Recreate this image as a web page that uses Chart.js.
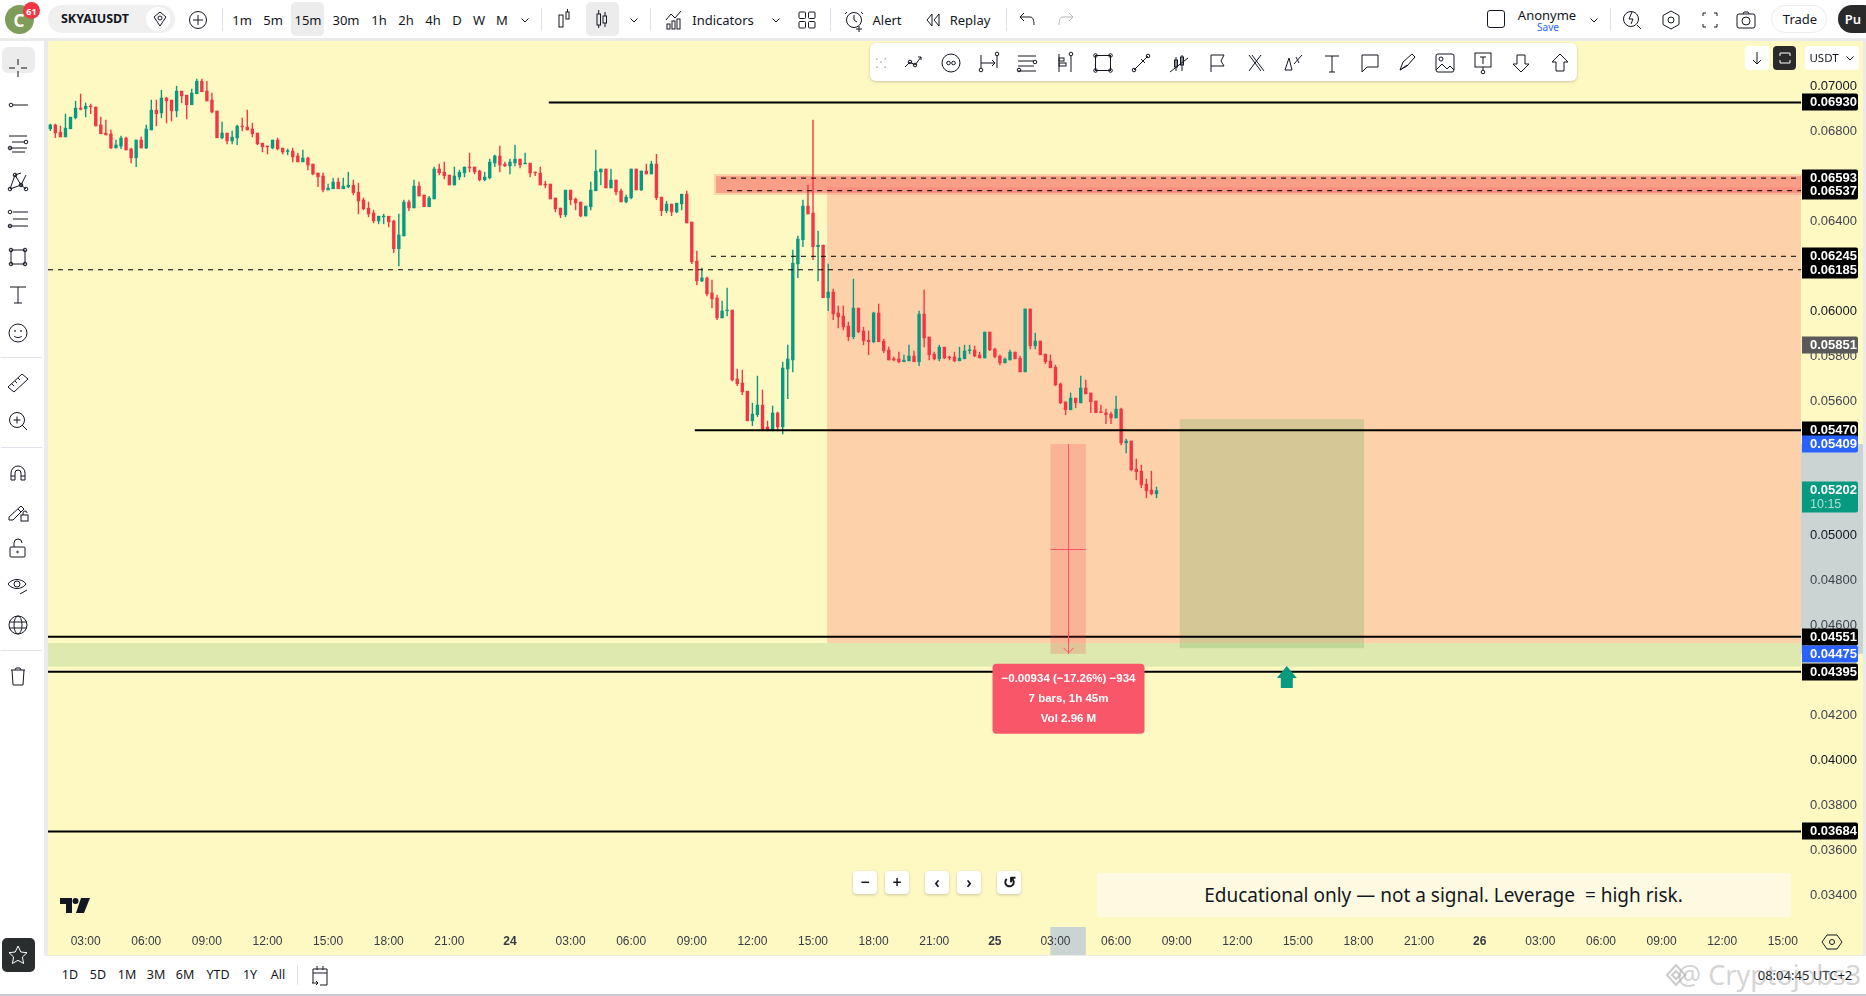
<!DOCTYPE html>
<html><head><meta charset="utf-8"><title>SKYAIUSDT</title>
<script src="https://cdn.jsdelivr.net/npm/chart.js@4"></script>
<style>
html,body{margin:0;padding:0;width:1866px;height:996px;overflow:hidden;background:#ebebeb;font-family:"Noto Sans","Liberation Sans",sans-serif;color:#131722}
#top{position:absolute;left:0;top:0;width:1866px;height:38px;background:#fff}
#left{position:absolute;left:0;top:41px;width:44px;height:914px;background:#fff}
#bottom{position:absolute;left:45px;top:956px;width:1821px;height:38px;background:#fff}
#leftb{position:absolute;left:0;top:955px;width:45px;height:39px;background:#fff}
#strip{position:absolute;left:0;top:994px;width:1866px;height:2px;background:#c9cbd6}
#wrap{position:absolute;left:48px;top:41px;width:1815px;height:914px;background:#fef8c3}
canvas{display:block}
.t{position:absolute;white-space:pre;transform:translate(-50%,-50%);font-size:13px;line-height:1}
.b{position:absolute;box-sizing:border-box}
svg.i{position:absolute;overflow:visible;fill:none;stroke:#131722;stroke-width:1}
</style></head><body>
<div id="top"></div><div id="left"></div><div id="leftb"></div><div id="bottom"></div><div id="strip"></div>
<div id="wrap"><canvas id="c" width="1815" height="914" style="width:1815px;height:914px"></canvas></div>
<div id="ui"></div>
<script>
// ---- chart values ----
const opens=[0.06812,0.06830,0.06798,0.06776,0.06812,0.06861,0.06905,0.06901,0.06914,0.06910,
0.06830,0.06794,0.06790,0.06727,0.06735,0.06772,0.06723,0.06683,0.06763,0.06727,
0.06807,0.06896,0.06883,0.06950,0.06941,0.06892,0.06981,0.06963,0.06919,0.06968,
0.07025,0.06981,0.06941,0.06892,0.06772,0.06794,0.06758,0.06772,0.06825,0.06821,
0.06812,0.06794,0.06749,0.06736,0.06727,0.06763,0.06727,0.06711,0.06714,0.06692,
0.06665,0.06683,0.06656,0.06616,0.06603,0.06540,0.06545,0.06576,0.06545,0.06554,
0.06562,0.06531,0.06496,0.06460,0.06438,0.06402,0.06420,0.06424,0.06402,0.06278,
0.06335,0.06487,0.06460,0.06558,0.06518,0.06465,0.06500,0.06634,0.06620,0.06607,
0.06562,0.06598,0.06616,0.06643,0.06643,0.06625,0.06585,0.06594,0.06660,0.06692,
0.06656,0.06647,0.06660,0.06678,0.06656,0.06660,0.06620,0.06616,0.06567,0.06567,
0.06505,0.06460,0.06429,0.06540,0.06500,0.06487,0.06424,0.06465,0.06536,0.06620,
0.06634,0.06549,0.06585,0.06536,0.06487,0.06505,0.06634,0.06540,0.06625,0.06611,
0.06656,0.06509,0.06447,0.06478,0.06442,0.06478,0.06522,0.06398,0.06224,0.06135,
0.06149,0.06082,0.06060,0.05970,0.06002,0.06006,0.05699,0.05681,0.05645,0.05512,
0.05539,0.05583,0.05485,0.05472,0.05548,0.05485,0.05743,0.05783,0.06211,0.06318,
0.06469,0.06438,0.06287,0.06295,0.06060,0.06086,0.05993,0.05979,0.05935,0.05886,
0.06015,0.05913,0.05872,0.05864,0.05993,0.05868,0.05828,0.05789,0.05788,0.05775,
0.05779,0.05801,0.05775,0.05988,0.05886,0.05810,0.05788,0.05841,0.05797,0.05797,
0.05779,0.05788,0.05824,0.05828,0.05806,0.05792,0.05908,0.05832,0.05801,0.05770,
0.05783,0.05819,0.05792,0.05730,0.06011,0.05846,0.05868,0.05810,0.05779,0.05752,
0.05677,0.05597,0.05561,0.05614,0.05592,0.05659,0.05637,0.05601,0.05552,0.05548,
0.05543,0.05525,0.05565,0.05414,0.05423,0.05298,0.05289,0.05231,0.05205,0.05187];
const highs=[0.06834,0.06834,0.06825,0.06879,0.06865,0.06936,0.06968,0.06928,0.06923,0.06910,
0.06865,0.06852,0.06807,0.06763,0.06781,0.06776,0.06727,0.06763,0.06776,0.06830,
0.06941,0.06941,0.06985,0.06954,0.06941,0.07003,0.06981,0.06963,0.06990,0.07034,
0.07034,0.07025,0.06972,0.06892,0.06843,0.06794,0.06803,0.06830,0.06861,0.06896,
0.06838,0.06794,0.06749,0.06736,0.06763,0.06772,0.06727,0.06723,0.06727,0.06705,
0.06718,0.06687,0.06656,0.06616,0.06616,0.06567,0.06594,0.06594,0.06594,0.06620,
0.06585,0.06571,0.06505,0.06487,0.06451,0.06424,0.06433,0.06424,0.06407,0.06433,
0.06496,0.06496,0.06585,0.06576,0.06518,0.06513,0.06643,0.06656,0.06665,0.06607,
0.06643,0.06629,0.06643,0.06705,0.06643,0.06629,0.06620,0.06678,0.06696,0.06736,
0.06665,0.06678,0.06741,0.06678,0.06705,0.06660,0.06620,0.06643,0.06580,0.06567,
0.06505,0.06460,0.06540,0.06540,0.06505,0.06487,0.06469,0.06576,0.06718,0.06634,
0.06634,0.06634,0.06585,0.06545,0.06518,0.06634,0.06634,0.06625,0.06656,0.06669,
0.06700,0.06509,0.06491,0.06478,0.06482,0.06522,0.06536,0.06398,0.06269,0.06193,
0.06153,0.06140,0.06073,0.06046,0.06104,0.06006,0.05743,0.05739,0.05645,0.05592,
0.05712,0.05650,0.05512,0.05579,0.05552,0.05775,0.05850,0.06273,0.06336,0.06496,
0.06563,0.06852,0.06358,0.06295,0.06211,0.06100,0.06024,0.06024,0.05953,0.06144,
0.06015,0.05930,0.05913,0.05997,0.06033,0.05877,0.05841,0.05797,0.05819,0.05806,
0.05850,0.05824,0.06002,0.06095,0.05886,0.05819,0.05850,0.05841,0.05801,0.05819,
0.05841,0.05850,0.05850,0.05846,0.05819,0.05908,0.05908,0.05837,0.05806,0.05792,
0.05828,0.05819,0.05801,0.06011,0.06011,0.05904,0.05868,0.05810,0.05806,0.05761,
0.05681,0.05597,0.05637,0.05614,0.05712,0.05694,0.05637,0.05601,0.05583,0.05565,
0.05552,0.05623,0.05570,0.05432,0.05423,0.05343,0.05316,0.05254,0.05289,0.05218];
const lows=[0.06804,0.06773,0.06776,0.06776,0.06812,0.06856,0.06896,0.06865,0.06879,0.06825,
0.06790,0.06785,0.06723,0.06727,0.06723,0.06718,0.06660,0.06643,0.06727,0.06723,
0.06807,0.06825,0.06861,0.06838,0.06847,0.06865,0.06928,0.06856,0.06919,0.06968,
0.06977,0.06936,0.06883,0.06772,0.06767,0.06745,0.06745,0.06741,0.06803,0.06807,
0.06776,0.06741,0.06709,0.06700,0.06723,0.06718,0.06700,0.06696,0.06665,0.06665,
0.06665,0.06629,0.06607,0.06554,0.06531,0.06540,0.06545,0.06545,0.06545,0.06549,
0.06518,0.06433,0.06451,0.06420,0.06393,0.06389,0.06389,0.06375,0.06260,0.06202,
0.06335,0.06447,0.06460,0.06513,0.06465,0.06465,0.06500,0.06607,0.06589,0.06562,
0.06562,0.06585,0.06598,0.06620,0.06611,0.06580,0.06580,0.06589,0.06643,0.06620,
0.06643,0.06611,0.06647,0.06638,0.06656,0.06598,0.06603,0.06562,0.06549,0.06500,
0.06442,0.06416,0.06420,0.06473,0.06451,0.06420,0.06424,0.06451,0.06536,0.06562,
0.06549,0.06549,0.06518,0.06487,0.06482,0.06500,0.06540,0.06536,0.06611,0.06611,
0.06496,0.06425,0.06438,0.06425,0.06438,0.06451,0.06393,0.06211,0.06117,0.06131,
0.06068,0.06015,0.05962,0.05970,0.05979,0.05690,0.05668,0.05628,0.05512,0.05490,
0.05530,0.05472,0.05467,0.05467,0.05467,0.05454,0.05610,0.05730,0.06149,0.06287,
0.06433,0.06229,0.06135,0.06060,0.06002,0.05962,0.05926,0.05917,0.05868,0.05877,
0.05904,0.05850,0.05806,0.05859,0.05864,0.05815,0.05783,0.05779,0.05770,0.05775,
0.05779,0.05775,0.05757,0.05841,0.05783,0.05783,0.05779,0.05788,0.05783,0.05775,
0.05779,0.05788,0.05810,0.05797,0.05792,0.05792,0.05824,0.05792,0.05761,0.05770,
0.05783,0.05788,0.05730,0.05730,0.05832,0.05832,0.05806,0.05766,0.05748,0.05668,
0.05588,0.05539,0.05561,0.05570,0.05592,0.05632,0.05548,0.05548,0.05548,0.05499,
0.05499,0.05525,0.05405,0.05369,0.05289,0.05249,0.05214,0.05169,0.05182,0.05169];
const closes=[0.06830,0.06794,0.06776,0.06816,0.06865,0.06905,0.06899,0.06914,0.06910,0.06825,
0.06790,0.06785,0.06727,0.06741,0.06772,0.06718,0.06683,0.06763,0.06727,0.06812,
0.06896,0.06879,0.06950,0.06936,0.06892,0.06981,0.06959,0.06919,0.06972,0.07025,
0.06977,0.06936,0.06887,0.06772,0.06794,0.06758,0.06776,0.06825,0.06821,0.06807,
0.06790,0.06745,0.06732,0.06732,0.06763,0.06723,0.06709,0.06715,0.06687,0.06665,
0.06683,0.06651,0.06611,0.06598,0.06540,0.06549,0.06576,0.06545,0.06558,0.06562,
0.06527,0.06491,0.06456,0.06433,0.06402,0.06424,0.06424,0.06398,0.06278,0.06340,
0.06487,0.06460,0.06558,0.06513,0.06465,0.06505,0.06634,0.06616,0.06603,0.06562,
0.06603,0.06620,0.06643,0.06638,0.06620,0.06585,0.06598,0.06665,0.06692,0.06651,
0.06647,0.06665,0.06678,0.06651,0.06660,0.06616,0.06616,0.06562,0.06562,0.06500,
0.06456,0.06429,0.06540,0.06496,0.06482,0.06424,0.06469,0.06540,0.06625,0.06634,
0.06549,0.06585,0.06531,0.06487,0.06509,0.06634,0.06540,0.06625,0.06611,0.06656,
0.06505,0.06447,0.06478,0.06442,0.06482,0.06522,0.06393,0.06220,0.06135,0.06149,
0.06077,0.06055,0.05970,0.06002,0.06006,0.05694,0.05677,0.05641,0.05512,0.05543,
0.05583,0.05476,0.05472,0.05548,0.05485,0.05748,0.05788,0.06215,0.06322,0.06469,
0.06433,0.06287,0.06295,0.06060,0.06086,0.05988,0.05975,0.05930,0.05886,0.06015,
0.05908,0.05868,0.05864,0.05993,0.05864,0.05824,0.05783,0.05783,0.05775,0.05783,
0.05801,0.05775,0.05988,0.05881,0.05806,0.05788,0.05841,0.05792,0.05792,0.05779,
0.05792,0.05824,0.05828,0.05801,0.05792,0.05908,0.05828,0.05797,0.05770,0.05788,
0.05819,0.05788,0.05730,0.06011,0.05846,0.05868,0.05806,0.05775,0.05748,0.05672,
0.05592,0.05561,0.05614,0.05592,0.05659,0.05632,0.05597,0.05548,0.05548,0.05539,
0.05525,0.05565,0.05414,0.05423,0.05294,0.05285,0.05227,0.05200,0.05187,0.05202];

const timeLabels=["03:00","06:00","09:00","12:00","15:00","18:00","21:00","24",
"03:00","06:00","09:00","12:00","15:00","18:00","21:00","25",
"03:00","06:00","09:00","12:00","15:00","18:00","21:00","26",
"03:00","06:00","09:00","12:00","15:00"];
const firstLabelBar=7, barsPerLabel=12;          // bars of 15 minutes
const priceTicks=[0.070,0.068,0.066,0.064,0.062,0.060,0.058,0.056,0.054,0.052,0.050,0.048,0.046,0.044,0.042,0.040,0.038,0.036,0.034];
const priceMin=0.032588, priceMax=0.072035, barMin=-0.455, barMax=346.6;

const solidLevels=[[0.06930,98.7],[0.05470,127.6],[0.04551,barMin],[0.04395,barMin],[0.03684,barMin]];
const dashedLevels=[[0.06593,132.8],[0.06537,134],[0.06245,130.8],[0.06185,barMin]];
const blackTags=[0.06930,0.06593,0.06537,0.06245,0.06185,0.05470,0.04551,0.04395,0.03684];
const greyTags=[0.05851], blueTags=[0.05409,0.04475];
const lastPrice=0.05202, countdown="10:15";

const supplyZone={from:131.8,to:barMax,top:0.06602,bottom:0.06527};
const riskZone={from:153.8,to:barMax,top:0.06553,bottom:0.04523};
const demandZone={from:barMin,to:barMax,top:0.04523,bottom:0.04418};
const targetBox={from:223.6,to:260.1,top:0.05520,bottom:0.04500};
const measure={from:198,to:205,start:0.05409,end:0.04475,lines:["\u22120.00934 (\u221217.26%) \u2212934","7 bars, 1h 45m","Vol 2.96 M"]};
const buyArrow={bar:244.8,tip:0.04421};

// ---- chart ----
const UP='#089981',DOWN='#F23645';
const bars=opens.map((_,i)=>i);
const candleColors=bars.map(i=>closes[i]>=opens[i]?UP:DOWN);
function levelSet(l,dashed){return {type:'line',data:[{x:l[1],y:l[0]},{x:barMax,y:l[0]}],borderColor:'#000',
  borderWidth:dashed?1:2,borderDash:dashed?[5,5]:[],pointRadius:0,order:1,tension:0};}

function zone(c,z,color){const {x,y}=c.scales;
  c.ctx.fillStyle=color;
  c.ctx.fillRect(x.getPixelForValue(z.from),y.getPixelForValue(z.top),
    x.getPixelForValue(z.to)-x.getPixelForValue(z.from),y.getPixelForValue(z.bottom)-y.getPixelForValue(z.top));}
function tag(c,price,bg,text,fg){const y=c.scales.y.getPixelForValue(price),ctx=c.ctx,L=c.chartArea.right+1;
  ctx.fillStyle=bg;ctx.beginPath();ctx.roundRect(L,Math.round(y)-8.5,56,17,[0,2,2,0]);ctx.fill();
  ctx.fillStyle=fg||'#fff';ctx.font='bold 13px "Liberation Sans"';ctx.textAlign='left';ctx.textBaseline='middle';
  ctx.fillText(text,L+8,Math.round(y)+0.5);}

const overlay={id:'overlay',
 beforeDraw(c){const {x,y}=c.scales,ctx=c.ctx,a=c.chartArea;
  ctx.save();ctx.fillStyle='#cad5d3';
  ctx.fillRect(a.right,y.getPixelForValue(measure.start),62,y.getPixelForValue(measure.end)-y.getPixelForValue(measure.start));
  ctx.fillRect(x.getPixelForValue(measure.from),a.bottom,x.getPixelForValue(measure.to)-x.getPixelForValue(measure.from),28);
  ctx.restore();},
 beforeDatasetsDraw(c){const ctx=c.ctx,{x,y}=c.scales;ctx.save();
  zone(c,demandZone,'rgba(133,192,120,0.27)');
  zone(c,supplyZone,'rgba(245,60,70,0.47)');
  const sx=x.getPixelForValue(supplyZone.from),st=y.getPixelForValue(supplyZone.top),sb=y.getPixelForValue(supplyZone.bottom);
  ctx.strokeStyle='rgba(245,60,70,0.2)';ctx.lineWidth=2;ctx.strokeRect(sx-1,st-1,c.chartArea.right-sx+1,sb-st+2);
  zone(c,riskZone,'rgba(250,109,108,0.28)');
  zone(c,targetBox,'rgba(123,179,103,0.30)');
  ctx.restore();},
 afterDraw(c){const ctx=c.ctx,{x,y}=c.scales;ctx.save();
  // measure tool
  const mx0=x.getPixelForValue(measure.from),mx1=x.getPixelForValue(measure.to),my0=y.getPixelForValue(measure.start),my1=y.getPixelForValue(measure.end);
  ctx.fillStyle='rgba(242,54,69,0.2)';ctx.fillRect(mx0,my0,mx1-mx0,my1-my0);
  const cx=Math.round((mx0+mx1)/2)+0.5;
  ctx.strokeStyle='#F9566A';ctx.lineWidth=1;ctx.beginPath();
  ctx.moveTo(cx,my0);ctx.lineTo(cx,my1);ctx.moveTo(mx0,Math.round((my0+my1)/2)+.5);ctx.lineTo(mx1,Math.round((my0+my1)/2)+.5);
  ctx.moveTo(cx-5,my1-6);ctx.lineTo(cx,my1-1);ctx.lineTo(cx+5,my1-6);ctx.stroke();
  ctx.fillStyle='#F9566A';ctx.beginPath();ctx.roundRect(cx-76,my1+10,152,70,4);ctx.fill();
  ctx.fillStyle='#fff';ctx.font='bold 11.5px "Liberation Sans"';ctx.textAlign='center';ctx.textBaseline='middle';
  measure.lines.forEach((s,i)=>ctx.fillText(s,cx,my1+25+i*20));
  // arrow
  const ax=x.getPixelForValue(buyArrow.bar),ay=y.getPixelForValue(buyArrow.tip);
  ctx.fillStyle=UP;ctx.beginPath();ctx.moveTo(ax,ay);ctx.lineTo(ax+10,ay+12);ctx.lineTo(ax+6,ay+12);ctx.lineTo(ax+6,ay+22);
  ctx.lineTo(ax-6,ay+22);ctx.lineTo(ax-6,ay+12);ctx.lineTo(ax-10,ay+12);ctx.closePath();ctx.fill();
  // price tags
  greyTags.forEach(p=>tag(c,p,'#5a5a5a',p.toFixed(5)));
  blackTags.forEach(p=>tag(c,p,'#000',p.toFixed(5)));
  blueTags.forEach(p=>tag(c,p,'#2962FF',p.toFixed(5)));
  const ly=y.getPixelForValue(lastPrice),L=c.chartArea.right+1;
  ctx.fillStyle=UP;ctx.beginPath();ctx.roundRect(L,ly-9,56,31,[0,2,2,0]);ctx.fill();
  ctx.fillStyle='#fff';ctx.font='bold 13px "Liberation Sans"';ctx.textAlign='left';ctx.fillText(lastPrice.toFixed(5),L+8,ly);
  ctx.fillStyle='#a9e0d4';ctx.font='12.5px "Liberation Sans"';ctx.fillText(countdown,L+8,ly+14);
  ctx.restore();}
};

const labelAt=v=>timeLabels[Math.round((v-firstLabelBar)/barsPerLabel)];
new Chart(document.getElementById('c'),{type:'bar',plugins:[overlay],
 data:{datasets:[
  {label:'wick',data:bars.map(i=>({x:i,y:[lows[i],highs[i]]})),backgroundColor:candleColors,barThickness:1,grouped:false,order:3,inflateAmount:0.2},
  {label:'body',data:bars.map(i=>({x:i,y:[opens[i],closes[i]]})),backgroundColor:candleColors,barThickness:3,minBarLength:1,grouped:false,order:2,inflateAmount:0.2},
  ...solidLevels.map(l=>levelSet(l,false)),
  ...dashedLevels.map(l=>levelSet(l,true))
 ]},
 options:{responsive:false,animation:false,devicePixelRatio:1,events:[],
  layout:{autoPadding:false,padding:0},
  plugins:{legend:{display:false},tooltip:{enabled:false},title:{display:false}},
  scales:{
   x:{type:'linear',min:barMin,max:barMax,offset:false,
      grid:{display:false,drawTicks:false},border:{display:false},
      afterBuildTicks(s){s.ticks=timeLabels.map((_,k)=>({value:firstLabelBar+k*barsPerLabel}));},
      afterFit(s){s.height=28;s.paddingLeft=0;s.paddingRight=0;},
      ticks:{autoSkip:false,maxRotation:0,minRotation:0,padding:7,
        font(ctx){const t=ctx.tick?labelAt(ctx.tick.value):'';return {family:'"Liberation Sans"',size:12,weight:t&&t.length<3?'bold':'normal'};},
        color:'#363a45',
        callback(v){return labelAt(v);}}},
   y:{type:'linear',position:'right',min:priceMin,max:priceMax,
      grid:{display:false,drawTicks:false},border:{display:false},
      afterBuildTicks(s){s.ticks=priceTicks.map(v=>({value:v}));},
      afterFit(s){s.width=62;s.paddingTop=0;s.paddingBottom=0;},
      ticks:{autoSkip:false,padding:9,font:{family:'"Liberation Sans"',size:13},
        color(ctx){return ctx.tick&&Math.abs(ctx.tick.value*100-Math.round(ctx.tick.value*100))<1e-6?'#131722':'#40444f';},
        callback(v){return v.toFixed(5);}}}
  }}});

// ---- surrounding interface ----
const ui=document.getElementById('ui');
function T(x,y,s,st){const d=document.createElement('div');d.className='t';d.textContent=s;d.style.left=x+'px';d.style.top=y+'px';if(st)d.style.cssText+=st;ui.appendChild(d);return d;}
function B(x,y,w,h,st){const d=document.createElement('div');d.className='b';d.style.cssText=`left:${x}px;top:${y}px;width:${w}px;height:${h}px;`+(st||'');ui.appendChild(d);return d;}
function I(cx,cy,inner,st){const n='http://www.w3.org/2000/svg',s=document.createElementNS(n,'svg');s.setAttribute('class','i');s.setAttribute('width',24);s.setAttribute('height',24);s.setAttribute('viewBox','0 0 24 24');s.style.cssText=`left:${cx-12}px;top:${cy-12}px;`+(st||'');s.innerHTML=inner;ui.appendChild(s);}
const dot=(x,y,r=1.8)=>`<circle cx="${x}" cy="${y}" r="${r}"/>`;
// top bar
B(5,5,29,29,'background:#7f9c58;border-radius:50%');T(19,20,'C','color:#fff;font-weight:700;font-size:17px');
B(23,2,17,17,'background:#F23645;border-radius:50%');T(31.5,10.5,'61','color:#fff;font-size:9px;font-weight:700');
B(48,5,127,28,'background:#f0f0f0;border-radius:14px');T(95,19,'SKYAIUSDT','font-weight:700;font-size:12.5px');
B(146,7,24,24,'background:#fff;border-radius:50%');I(160,19,'<path d="M12 5l6 5-6 9-6-9z"/><circle cx="12" cy="11" r="2"/>');
I(198,20,'<circle cx="12" cy="12" r="8.5"/><path d="M12 7v10M7 12h10"/>');
B(222,8,1,23,'background:#e0e3eb');
B(291,2,33,34,'background:#ececec;border-radius:5px');
[['1m',242],['5m',273],['15m',308],['30m',346],['1h',379],['2h',406],['4h',433],['D',457],['W',479],['M',502]].forEach(a=>T(a[1],20,a[0]));
const chev='<path d="M8.5 10.5l3.5 3.5 3.5-3.5"/>';
I(525,20,chev);B(541,8,1,23,'background:#e0e3eb');
I(564,19,'<rect x="7" y="8" width="4" height="12"/><rect x="14" y="5" width="3" height="7"/><path d="M15.5 2v3"/>');
B(586,2,33,34,'background:#ececec;border-radius:5px');
I(602,19,'<rect x="7" y="7" width="3.5" height="11"/><path d="M8.7 3v4M8.7 18v3"/><rect x="13" y="9" width="3.5" height="7"/><path d="M15 5v4M15 16v4"/>');
I(634,20,chev);B(650,8,1,23,'background:#e0e3eb');
I(674,19,'<path d="M4 13l5-6 4 4 6-7"/><rect x="5" y="17" width="3" height="5"/><rect x="10" y="14" width="3" height="8"/><rect x="15" y="12" width="3" height="10"/>');
T(723,20,'Indicators');I(776,20,chev);
I(807,20,'<rect x="4" y="4" width="6.5" height="6.5" rx="1"/><rect x="13.5" y="4" width="6.5" height="6.5" rx="1"/><rect x="4" y="13.5" width="6.5" height="6.5" rx="1"/><rect x="13.5" y="13.5" width="6.5" height="6.5" rx="1"/>');
B(830,8,1,23,'background:#e0e3eb');
I(854,20,'<circle cx="12" cy="12" r="7.5"/><path d="M12 7v5l3 2M5 4L3 6M19 4l2 2M17 18v6M14 21h6"/>');T(887,20,'Alert');
I(934,20,'<path d="M10 6l-5 6 5 6zM17 6l-5 6 5 6z"/>');T(970,20,'Replay');
B(1006,8,1,23,'background:#e0e3eb');
I(1028,20,'<path d="M8 5l-4 4 4 4M4 9h10c3 0 4 3 4 8"/>');I(1065,20,'<path d="M16 5l4 4-4 4M20 9H10c-3 0-4 3-4 8"/>','stroke:#b2b5be');
B(1487,10,18,18,'border:1px solid #131722;border-radius:3px');
T(1547,15,'Anonyme');T(1548,27,'Save','color:#2962FF;font-size:10px');I(1594,20,chev);B(1610,8,1,23,'background:#e0e3eb');
I(1633,19,'<circle cx="10" cy="12" r="7.5"/><path d="M16 18l4 4M11 5l-3 7h4l-2 5"/>');
I(1671,20,'<path d="M12 3l8 4.5v9L12 21l-8-4.5v-9z"/><circle cx="12" cy="12" r="3"/>');
I(1710,20,'<path d="M8 5H5v3M16 5h3v3M8 19H5v-3M16 19h3v-3"/>');
I(1746,20,'<rect x="3" y="6" width="18" height="14" rx="2"/><circle cx="12" cy="13" r="4"/><path d="M9 6l1-2h4l1 2"/>');
B(1771,5,56,28,'border:1px solid #ececec;border-radius:14px');T(1800,19,'Trade');
B(1838,5,40,28,'background:#2a2a2a;border-radius:14px');T(1853,19,'Pu','color:#fff;font-weight:600');
// drawing toolbar
B(870,43,707,38,'background:#fff;border-radius:6px;box-shadow:0 1px 3px rgba(0,0,0,.2)');
T(881,63,'\u2059','color:#b2b5be;font-size:14px');
const dr=[
'<path d="M4 16l5-5 5 3 6-8M17 6h3v3"/>'+dot(9,11)+dot(14,14),
'<circle cx="12" cy="12" r="9"/>'+dot(9.5,12)+dot(14.5,12),
'<path d="M4 4v13M20 4v13M4 12h14M15 9l3 3-3 3"/>'+dot(4,19)+dot(20,3),
'<path d="M3 5h18M3 10h16M3 15h16M3 20h18"/>'+dot(20,11)+dot(4,19),
'<path d="M6 3v18M18 5v16"/><rect x="6" y="7" width="5" height="3"/><rect x="6" y="12" width="7" height="3"/>'+dot(18,3),
'<rect x="4.5" y="4.5" width="15" height="15"/>'+dot(4.5,4.5)+dot(19.5,4.5)+dot(4.5,19.5)+dot(19.5,19.5),
'<path d="M5 19L19 5M12 8l4 4"/>'+dot(5,19)+dot(19,5),
'<path d="M3 21L21 7M9 6v14M15 4v16"/><rect x="7.5" y="9" width="3" height="7"/><rect x="13.5" y="6" width="3" height="8"/>',
'<path d="M6 21V4h13l-3 6 3 5H6"/>',
'<path d="M6 4l12 16M9 4l12 16M6 20L18 4"/>',
'<path d="M3 19l4-12 3 12zM12 13l8-9"/><path d="M14 6l3 6"/>',
'<path d="M5 5h14M12 5v16M9 21h6"/>',
'<path d="M4 4h16v12H9l-5 5z"/>',
'<path d="M5 19l3-8 9-8 3 3-8 9zM5 19l7-5"/>',
'<rect x="3" y="3" width="18" height="18" rx="2"/><circle cx="8" cy="8" r="2"/><path d="M3 19l6-6 5 5 3-3 4 4"/>',
'<rect x="4" y="2" width="16" height="14"/><path d="M9 6h6M12 6v7M12 16v3"/>'+dot(12,21),
'<path d="M8 4h8v9h4l-8 8-8-8h4z"/>',
'<path d="M8 20h8v-9h4l-8-8-8 8h4z"/>'];
[913,951,989,1027,1065,1103,1141,1179,1217,1255,1294,1332,1370,1407,1445,1483,1521,1560].forEach((x,i)=>I(x,63,dr[i]));
B(1745,46,24,24,'background:#fff;border-radius:4px');I(1757,58,'<path d="M12 6v12M8 14l4 4 4-4"/>');
B(1773,46,23,24,'background:#2a2a2a;border-radius:4px');I(1784.5,58,'<path d="M7 10V7h10v3M7 14v3h10v-3"/>','stroke:#fff');
B(1805,46,54,24,'background:#fff;border-radius:4px');T(1824,58,'USDT','font-size:11.5px');I(1850,58,chev);
// left toolbar
B(2,47,33,26,'background:#ececec;border-radius:6px');
const lft=[
[68,'<path d="M12 3v6M12 15v6M3 12h6M15 12h6"/>'],
[105,'<path d="M7 12h15"/>'+dot(5,12)],
[143,'<path d="M3 5h18M6 11h13M3 17h18M6 21h13"/>'+dot(20,11)+dot(4,17)],
[181,'<path d="M4 20l5-14 6 10 5-10M4 20l11-4 5 4M9 6l6-2"/>'+dot(4,20)+dot(9,6)+dot(15,16)+dot(20,20)],
[219,'<path d="M7 5h15M2 19h20M7 12h15"/>'+dot(4,5)+dot(4,19)],
[257,'<rect x="5" y="5" width="14" height="14"/>'+dot(5,5)+dot(19,5)+dot(5,19)+dot(19,19)],
[295,'<path d="M4 4h16M12 4v16M8 20h8"/>'],
[333,'<circle cx="12" cy="12" r="9"/><circle cx="9" cy="10" r=".5"/><circle cx="15" cy="10" r=".5"/><path d="M8 15c2 2 6 2 8 0"/>'],
[383,'<path d="M2 16L16 3l6 5L8 21zM6 13l2 2M9 10l2 2M12 7l2 2"/>'],
[421,'<circle cx="11" cy="11" r="7.5"/><path d="M16 16l5 5M11 7.5v7M7.5 11h7"/>'],
[474,'<path d="M5 18v-7a7 7 0 0 1 14 0v7h-4v-7a3 3 0 0 0-6 0v7zM5 14h4M15 14h4"/>'],
[512,'<path d="M3 17L15 6l3 3L7 20H3zM12 9l3 3"/><rect x="15" y="15" width="7" height="6"/><path d="M17 15v-2a2 2 0 0 1 4 0"/>'],
[549,'<rect x="4" y="10" width="15" height="10" rx="1"/><path d="M8 10V6a4 4 0 0 1 8 0"/>'+dot(11.5,15,.8)],
[586,'<path d="M2 10c4-6 14-6 18 0-4 6-14 6-18 0z"/><circle cx="11" cy="10" r="3"/><path d="M14 20l7-4"/>'],
[625,'<circle cx="12" cy="12" r="9"/><ellipse cx="12" cy="12" rx="4" ry="9"/><path d="M3 9h18M3 15h18"/>'],
[676,'<path d="M5 6h14M9 6l1-2h4l1 2M6 6l1 15h10l1-15"/>']];
lft.forEach(a=>I(18,a[0],a[1]));
[357,447,650].forEach(y=>B(1,y,41,1,'background:#e0e3eb'));
B(2,938,33,34,'background:#2a2e2e;border-radius:5px');I(18,955,'<path d="M12 3l2.8 6 6.2.7-4.6 4.3 1.2 6.5L12 17.3 6.4 20.5 7.6 14 3 9.7 9.2 9z"/>','stroke:#fff');
// bottom bar
[['1D',70],['5D',98],['1M',127],['3M',156],['6M',185],['YTD',218],['1Y',250],['All',278]].forEach(a=>T(a[1],975,a[0],'font-size:12.5px'));
B(297,965,1,20,'background:#e0e3eb');
I(320,975,'<path d="M5 20V6h14v16h-7M5 10h14M9 3v4M15 3v4M4 20h6M8 18l2 2-2 2"/>');
T(1805,975,'08:04:45 UTC+2','font-size:13px');
T(1769,974,'@ Cryptojobs3','font-size:27px;color:rgba(150,150,150,.42)');
I(1676,975,'<path d="M12 2l9 10-9 10-9-10z"/><path d="M12 8l4 4-4 4-4-4z"/>','stroke:rgba(170,170,170,.6);stroke-width:2');
// chart buttons
[[853,'\u2212'],[885,'+'],[925,'\u2039'],[957,'\u203a'],[997,'\u21ba']].forEach(a=>{B(a[0],871,24,23,'background:#fff;border-radius:4px;box-shadow:0 1px 3px rgba(0,0,0,.2)');T(a[0]+12,882,a[1],'font-size:16px;font-weight:600');});
// TV logo
const logo=document.createElementNS('http://www.w3.org/2000/svg','svg');logo.setAttribute('viewBox','0 0 30 15');logo.style.cssText='position:absolute;left:60px;top:898px;width:30px;height:15px';
logo.innerHTML='<path d="M0 0h12v15H6V6H0z" fill="#131722"/><circle cx="15.5" cy="3" r="3" fill="#131722"/><path d="M21 0h9l-6 15h-8z" fill="#131722"/>';ui.appendChild(logo);
// note
B(1096.5,873,694.5,44,'background:#fefae1');
T(1443.5,895,'Educational only \u2014 not a signal. Leverage  = high risk.','font-size:19px');
I(1832,942,'<path d="M7 5h10l5 7-5 7H7l-5-7z"/><circle cx="12" cy="12" r="2.5"/>');
</script></body></html>
